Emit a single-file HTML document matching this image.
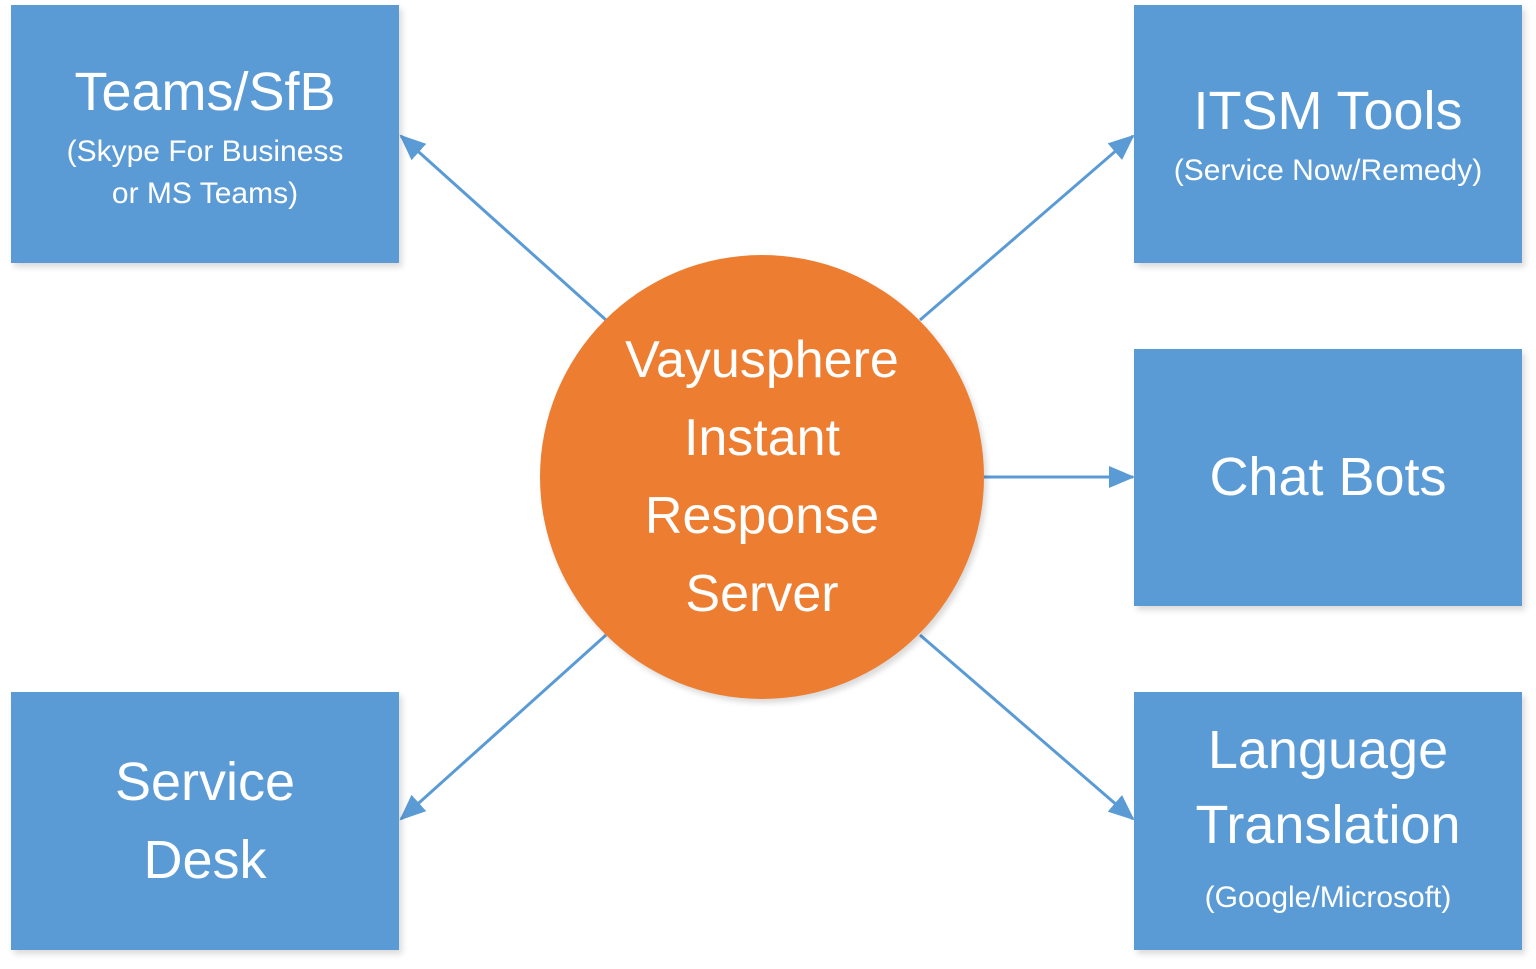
<!DOCTYPE html>
<html><head><meta charset="utf-8">
<style>
html,body{margin:0;padding:0;background:#fff;}
body{width:1536px;height:969px;position:relative;overflow:hidden;font-family:"Liberation Sans",sans-serif;color:#fff;}
.box{position:absolute;background:#5B9BD5;box-shadow:3px 4px 6px rgba(0,0,0,0.15);display:flex;flex-direction:column;align-items:center;justify-content:center;text-align:center;}
.big{font-size:54px;line-height:1.45;}
.small{font-size:30px;line-height:1.4;}
.circle{position:absolute;left:540px;top:255px;width:444px;height:444px;border-radius:50%;background:#ED7D31;box-shadow:3px 4px 6px rgba(0,0,0,0.15);display:flex;align-items:center;justify-content:center;text-align:center;font-size:52px;line-height:78px;}
svg{position:absolute;left:0;top:0;}
</style></head><body>
<svg width="1536" height="969">
<defs>
<marker id="b" markerWidth="26" markerHeight="22" refX="24" refY="11" orient="auto" markerUnits="userSpaceOnUse"><path d="M0,0 L26,11 L0,22 z" fill="#5B9BD5"/></marker></defs>
<g stroke="#5B9BD5" stroke-width="3" fill="none">
<line x1="606" y1="320" x2="401" y2="136" marker-end="url(#b)"/>
<line x1="920" y1="320" x2="1133" y2="136" marker-end="url(#b)"/>
<line x1="984" y1="477" x2="1133" y2="477" marker-end="url(#b)"/>
<line x1="606" y1="635" x2="401" y2="819" marker-end="url(#b)"/>
<line x1="920" y1="635" x2="1133" y2="819" marker-end="url(#b)"/>
</g></svg>
<div class="box" style="left:11px;top:5px;width:388px;height:258px;"><div class="big" style="margin-top:0px">Teams/SfB</div><div class="small">(Skype For Business<br>or MS Teams)</div></div>
<div class="box" style="left:1134px;top:5px;width:388px;height:258px;"><div class="big" style="margin-top:-4px">ITSM Tools</div><div class="small">(Service Now/Remedy)</div></div>
<div class="box" style="left:1134px;top:349px;width:388px;height:257px;"><div class="big">Chat Bots</div></div>
<div class="box" style="left:11px;top:692px;width:388px;height:258px;"><div class="big" style="line-height:78px">Service<br>Desk</div></div>
<div class="box" style="left:1134px;top:692px;width:388px;height:258px;"><div class="big" style="line-height:75px;margin-top:-10px">Language<br>Translation</div><div class="small" style="margin-top:14px">(Google/Microsoft)</div></div>
<div class="circle"><div>Vayusphere<br>Instant<br>Response<br>Server</div></div>
</body></html>
